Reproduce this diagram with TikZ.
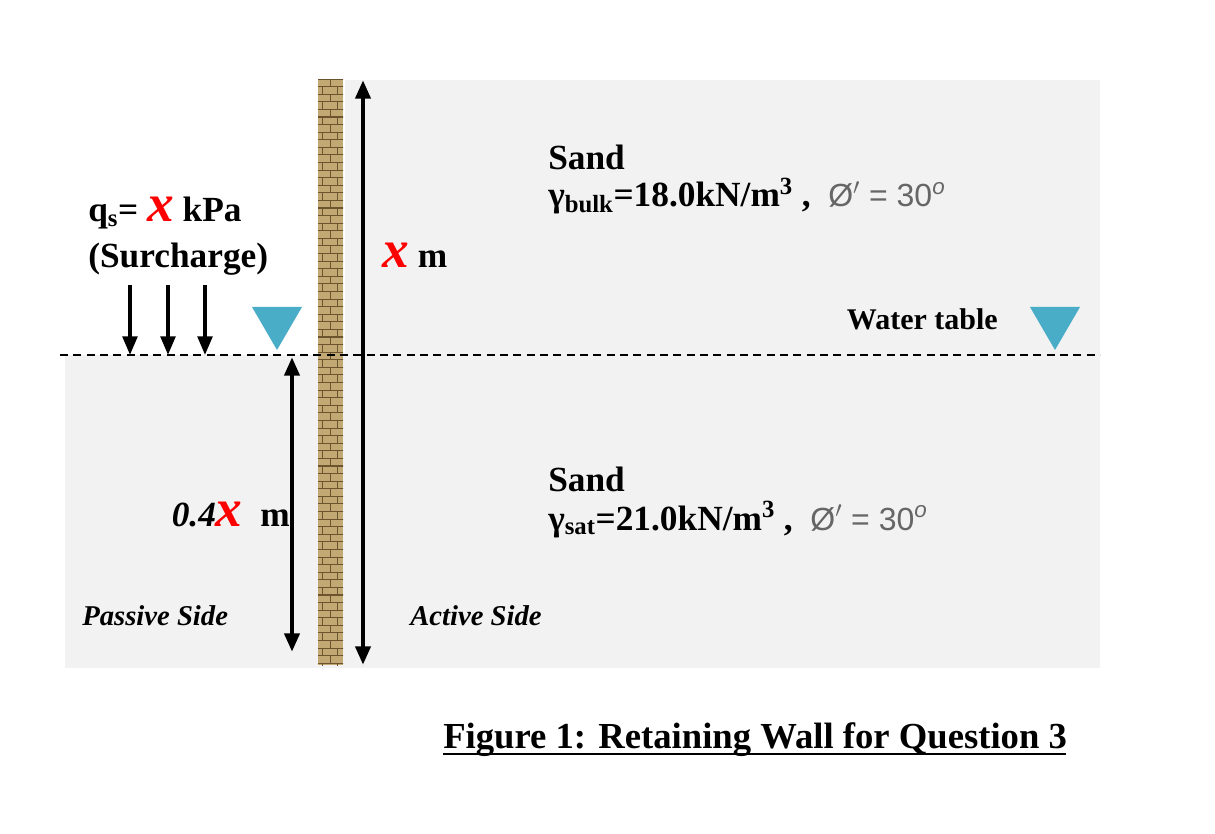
\documentclass[tikz,border=0pt]{standalone}
\usepackage{fontspec}
\setmainfont{Liberation Serif}
\setsansfont{Liberation Sans}
\usetikzlibrary{patterns,arrows.meta}
\definecolor{soil}{gray}{0.95}
\definecolor{wallc}{rgb}{0.76,0.66,0.45}
\definecolor{wallp}{rgb}{0.42,0.33,0.18}
\definecolor{water}{rgb}{0.29,0.68,0.78}
\newcommand{\rx}{{\color{red}\itshape\fontsize{40}{40}\selectfont x}}
\newcommand{\phitxt}{{\sffamily\mdseries\color{gray!80!black}\fontsize{24}{24}\selectfont Ø$'$ = 30\textsuperscript{\itshape o}}}
\tikzset{
  lbl/.style={anchor=base west, inner sep=0pt, font=\bfseries\fontsize{26.5}{26.5}\selectfont},
  ital/.style={anchor=base west, inner sep=0pt, font=\bfseries\itshape\fontsize{21.5}{21.5}\selectfont},
  dim/.style={line width=3.5pt, {Triangle[length=14pt,width=11pt]}-{Triangle[length=14pt,width=11pt]}},
  load/.style={line width=2.6pt, -{Triangle[length=14pt,width=11pt]}},
  wt/.style={fill=water, draw=none}
}
\begin{document}
\begin{tikzpicture}[x=0.75pt,y=-0.75pt]
\useasboundingbox (0,0) rectangle (1215,834);
% soil
\fill[soil] (345,80) rectangle (1100,355);
\fill[soil] (65,355) rectangle (1100,668);
% wall
\fill[wallc] (318,80) rectangle (343,665);
\fill[pattern=bricks, pattern color=wallp] (318,80) rectangle (343,665);
% water table line
\coordinate (wl) at (60,355);
\coordinate (wr) at (1100,355);
\draw[line width=1.1pt, dash pattern=on 6pt off 4pt] (wl) -- (wr);
% triangles
\fill[wt] (252,307) -- (302,307) -- (277,350) -- cycle;
\fill[wt] (1030,307) -- (1080,307) -- (1055,350) -- cycle;
% surcharge arrows
\foreach \i/\xx in {a/130,b/168,c/205}{
  \coordinate (t\i) at (\xx,285);
  \coordinate (h\i) at (\xx,355);
  \draw[load] (t\i) -- (h\i);
}
% dimension arrows
\coordinate (xa) at (363,80); \coordinate (xb) at (363,665);
\draw[dim] (xa) -- (xb);
\coordinate (ya) at (292,357); \coordinate (yb) at (292,652);
\draw[dim] (ya) -- (yb);
% texts
\node[lbl] (qs) at (88,222) {q\textsubscript{s}= \rx\ kPa};
\node[lbl] (sur) at (88,268) {(Surcharge)};
\node[lbl] (xm) at (382,268) {\rx\ m};
\node[lbl] (s1) at (548,170) {Sand};
\node[lbl] (g1) at (548,207) {γ\textsubscript{bulk}=18.0kN/m\textsuperscript{3} ,\ \ \phitxt};
\node[lbl, anchor=base east, font=\bfseries\fontsize{22.5}{22.5}\selectfont] (wtl) at (998,330) {Water table};
\node[lbl] (s2) at (548,492) {Sand};
\node[lbl] (g2) at (548,530) {γ\textsubscript{sat}=21.0kN/m\textsuperscript{3} ,\ \ \phitxt};
\node[lbl, anchor=base east] (x4) at (290,527) {{\itshape 0.4}\rx\ \ m};
\node[ital] (ps) at (82,625) {Passive Side};
\node[ital] (as) at (410,625) {Active Side};
\node[lbl, font=\bfseries\fontsize{27.5}{27.5}\selectfont] (cap) at (443,748) {Figure 1: Retaining Wall for Question 3};
\draw[line width=1.8pt] (cap.base west) ++(0,6) -- ++(623,0);
\end{tikzpicture}
\end{document}
